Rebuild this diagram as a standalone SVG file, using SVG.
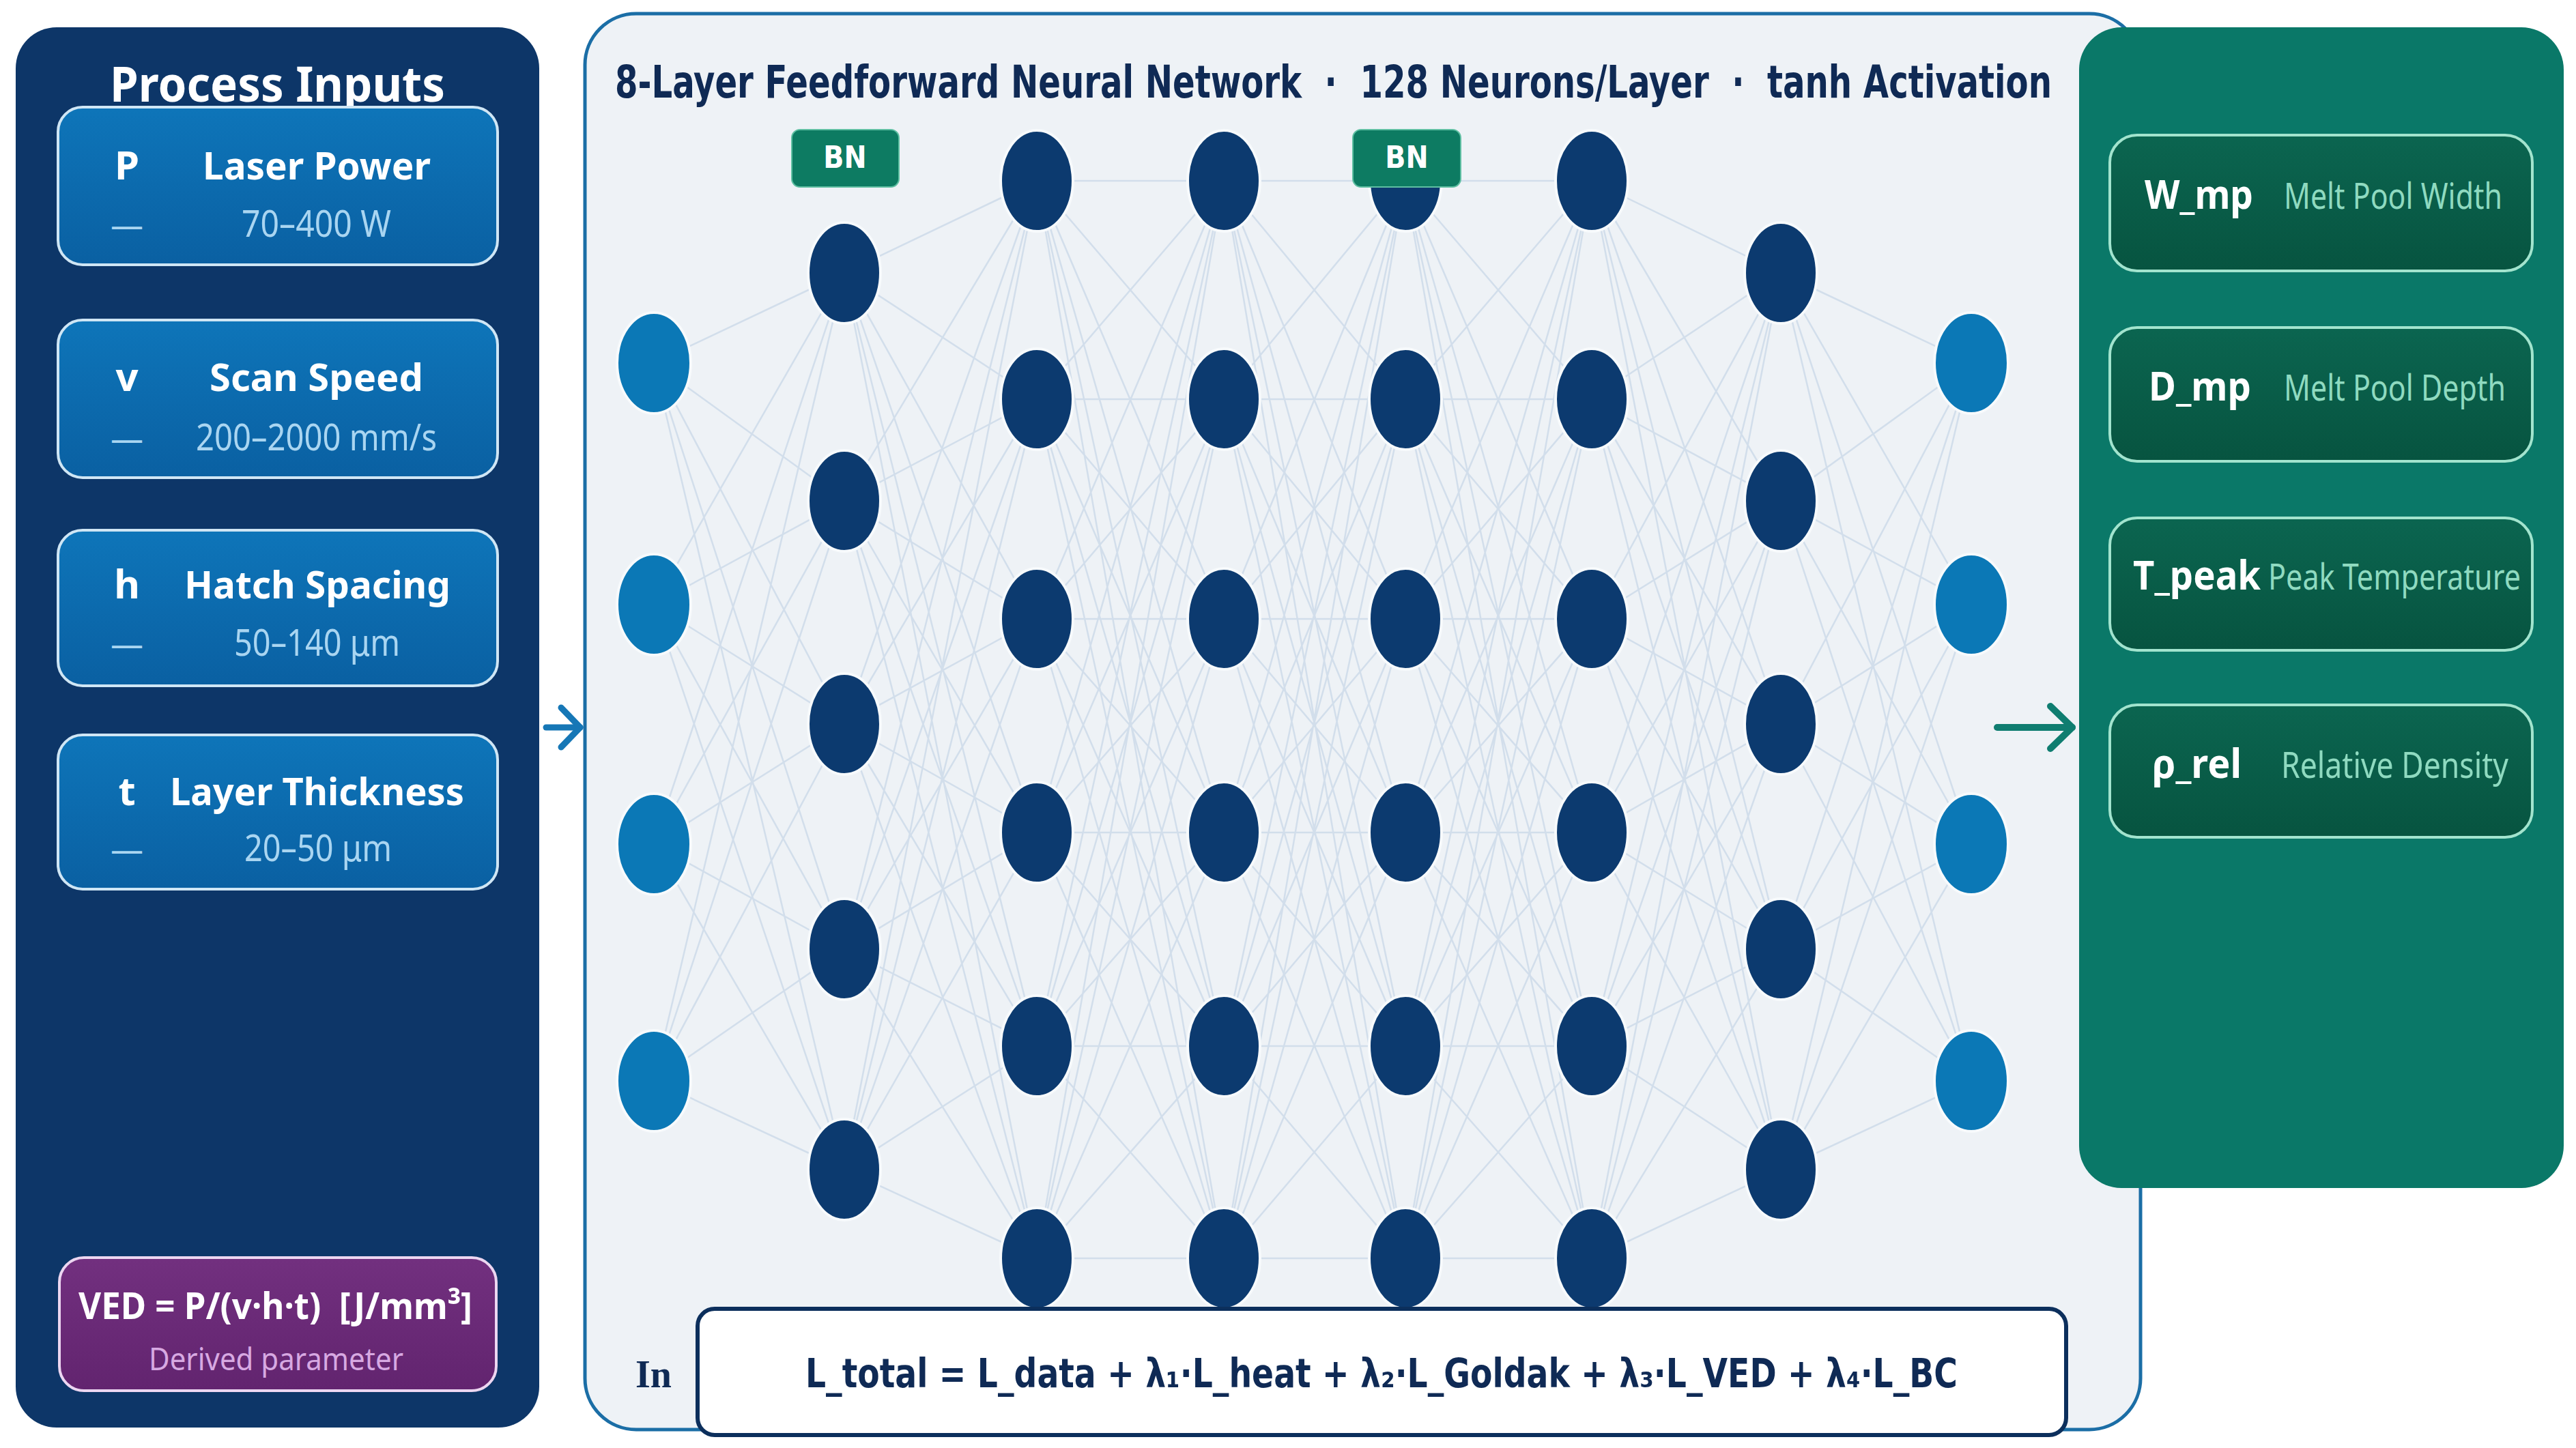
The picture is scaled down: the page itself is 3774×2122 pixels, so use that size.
<svg xmlns="http://www.w3.org/2000/svg" width="3774" height="2122" viewBox="0 0 3774 2122">
<defs>
<linearGradient id="gIn" x1="0" y1="0" x2="0" y2="1"><stop offset="0" stop-color="#0e75b9"/><stop offset="1" stop-color="#0a60a2"/></linearGradient>
<linearGradient id="gOut" x1="0" y1="0" x2="0" y2="1"><stop offset="0" stop-color="#0b6550"/><stop offset="1" stop-color="#075440"/></linearGradient>
<linearGradient id="gVed" x1="0" y1="0" x2="0" y2="1"><stop offset="0" stop-color="#72307f"/><stop offset="1" stop-color="#62246f"/></linearGradient>
<marker id="chevBlue" viewBox="0 0 40 70" refX="34" refY="35" markerWidth="40" markerHeight="70" orient="auto" markerUnits="userSpaceOnUse"><path d="M6 6 L34 35 L6 64" fill="none" stroke="#1677b6" stroke-width="9" stroke-linecap="round" stroke-linejoin="round"/></marker>
<marker id="chevTeal" viewBox="0 0 44 74" refX="38" refY="37" markerWidth="44" markerHeight="74" orient="auto" markerUnits="userSpaceOnUse"><path d="M6 6 L38 37 L6 68" fill="none" stroke="#0f7d70" stroke-width="10" stroke-linecap="round" stroke-linejoin="round"/></marker>
</defs>
<style>
.panelL{fill:#0d3668}
.panelM{fill:#eef2f6;stroke:#1b6ea6;stroke-width:5}
.panelR{fill:#0a7868}
.ibox{fill:url(#gIn);stroke:#cfe6f5;stroke-width:4}
.obox{fill:url(#gOut);stroke:#a2e4ce;stroke-width:4}
.vbox{fill:url(#gVed);stroke:#ecd6f1;stroke-width:4}
.bn{fill:#0d7b62;stroke:#5fbfa2;stroke-width:2}
.hid{fill:#0c3a6f;stroke:#f7fafc;stroke-width:4}
.io{fill:#0b78b6;stroke:#f7fafc;stroke-width:4}
.fbox{fill:#ffffff;stroke:#0c2f5c;stroke-width:6}
.wires{fill:none;stroke:#c6d5e7;stroke-width:2.5;opacity:0.7}
.arrowB{fill:none;stroke:#1677b6;stroke-width:9;stroke-linecap:round}
.arrowT{fill:none;stroke:#0f7d70;stroke-width:10;stroke-linecap:round}
.ptitle{font-family:"Noto Sans","Open Sans",sans-serif;font-weight:700;font-size:72px;fill:#ffffff}
.sym{font-family:"Noto Sans","Open Sans",sans-serif;font-weight:700;font-size:58px;fill:#ffffff;text-anchor:middle}
.lbl{font-family:"Noto Sans","Open Sans",sans-serif;font-weight:700;font-size:56px;fill:#ffffff}
.sub{font-family:"Noto Sans","Open Sans",sans-serif;font-weight:400;font-size:54px;fill:#a9d5f1}
.dash{font-family:"Noto Sans","Open Sans",sans-serif;font-weight:400;font-size:48px;fill:#a9d5f1;text-anchor:middle}
.ved{font-family:"Noto Sans","Open Sans",sans-serif;font-weight:700;font-size:54px;fill:#ffffff}
.vsub{font-family:"Noto Sans","Open Sans",sans-serif;font-weight:400;font-size:46px;fill:#d7a9e2}
.ntitle{font-family:"DejaVu Sans Condensed","DejaVu Sans",sans-serif;font-stretch:condensed;font-weight:700;font-size:66px;fill:#0f2a55}
.bnt{font-family:"DejaVu Sans Condensed","DejaVu Sans",sans-serif;font-stretch:condensed;font-weight:700;font-size:44px;fill:#ffffff;text-anchor:middle}
.olbl{font-family:"Noto Sans","Open Sans",sans-serif;font-weight:700;font-size:60px;fill:#ffffff}
.osub{font-family:"Noto Sans","Open Sans",sans-serif;font-weight:400;font-size:52px;fill:#8fdac0}
.form{font-family:"DejaVu Sans Condensed","DejaVu Sans",sans-serif;font-stretch:condensed;font-weight:700;font-size:58px;fill:#0f2a55}
.inl{font-family:"Liberation Serif","DejaVu Serif",serif;font-weight:700;font-size:56px;fill:#0f2a55}
</style>
<rect width="3774" height="2122" fill="#ffffff"/>

<g id="process-inputs">
<rect class="panelL" x="23" y="40" width="767" height="2052" rx="60"/>
<text class="ptitle" x="161" y="149" textLength="491" lengthAdjust="spacingAndGlyphs">Process Inputs</text>
</g>
<g id="in-power">
<rect class="ibox" x="85" y="157" width="644" height="231" rx="36"/>
<text class="sym" x="186" y="263">P</text>
<text class="lbl" x="297" y="263" textLength="334" lengthAdjust="spacingAndGlyphs">Laser Power</text>
<text class="dash" x="186" y="347">—</text>
<text class="sub" x="354" y="347" textLength="219" lengthAdjust="spacingAndGlyphs">70–400 W</text>
</g>
<g id="in-speed">
<rect class="ibox" x="85" y="469" width="644" height="231" rx="36"/>
<text class="sym" x="186" y="573">v</text>
<text class="lbl" x="307" y="573" textLength="313" lengthAdjust="spacingAndGlyphs">Scan Speed</text>
<text class="dash" x="186" y="660">—</text>
<text class="sub" x="287" y="660" textLength="353" lengthAdjust="spacingAndGlyphs">200–2000 mm/s</text>
</g>
<g id="in-hatch">
<rect class="ibox" x="85" y="777" width="644" height="228" rx="36"/>
<text class="sym" x="186" y="877">h</text>
<text class="lbl" x="270" y="877" textLength="390" lengthAdjust="spacingAndGlyphs">Hatch Spacing</text>
<text class="dash" x="186" y="961">—</text>
<text class="sub" x="343" y="961" textLength="243" lengthAdjust="spacingAndGlyphs">50–140 μm</text>
</g>
<g id="in-thickness">
<rect class="ibox" x="85" y="1077" width="644" height="226" rx="36"/>
<text class="sym" x="186" y="1180">t</text>
<text class="lbl" x="249" y="1180" textLength="431" lengthAdjust="spacingAndGlyphs">Layer Thickness</text>
<text class="dash" x="186" y="1262">—</text>
<text class="sub" x="358" y="1262" textLength="216" lengthAdjust="spacingAndGlyphs">20–50 μm</text>
</g>
<g id="ved">
<rect class="vbox" x="87" y="1843" width="640" height="195" rx="36"/>
<text class="ved" x="115" y="1933" textLength="577" lengthAdjust="spacingAndGlyphs" xml:space="preserve">VED = P/(v·h·t)  [J/mm³]</text>
<text class="vsub" x="218" y="2008" textLength="373" lengthAdjust="spacingAndGlyphs">Derived parameter</text>
</g>

<g id="network-panel">
<rect class="panelM" x="857" y="20" width="2279" height="2075" rx="75"/>
<text class="ntitle" x="901" y="143" textLength="2105" lengthAdjust="spacingAndGlyphs" xml:space="preserve">8-Layer Feedforward Neural Network  ·  128 Neurons/Layer  ·  tanh Activation</text>
</g>

<g id="connectors">
<path class="wires" d="M958 532L1237 400M958 532L1237 734M958 532L1237 1061M958 532L1237 1391M958 532L1237 1714M958 886L1237 400M958 886L1237 734M958 886L1237 1061M958 886L1237 1391M958 886L1237 1714M958 1237L1237 400M958 1237L1237 734M958 1237L1237 1061M958 1237L1237 1391M958 1237L1237 1714M958 1584L1237 400M958 1584L1237 734M958 1584L1237 1061M958 1584L1237 1391M958 1584L1237 1714"/>
<path class="wires" d="M1237 400L1519 265M1237 400L1519 585M1237 400L1519 907M1237 400L1519 1220M1237 400L1519 1533M1237 400L1519 1844M1237 734L1519 265M1237 734L1519 585M1237 734L1519 907M1237 734L1519 1220M1237 734L1519 1533M1237 734L1519 1844M1237 1061L1519 265M1237 1061L1519 585M1237 1061L1519 907M1237 1061L1519 1220M1237 1061L1519 1533M1237 1061L1519 1844M1237 1391L1519 265M1237 1391L1519 585M1237 1391L1519 907M1237 1391L1519 1220M1237 1391L1519 1533M1237 1391L1519 1844M1237 1714L1519 265M1237 1714L1519 585M1237 1714L1519 907M1237 1714L1519 1220M1237 1714L1519 1533M1237 1714L1519 1844"/>
<path class="wires" d="M1519 265L1793 265M1519 265L1793 585M1519 265L1793 907M1519 265L1793 1220M1519 265L1793 1533M1519 265L1793 1844M1519 585L1793 265M1519 585L1793 585M1519 585L1793 907M1519 585L1793 1220M1519 585L1793 1533M1519 585L1793 1844M1519 907L1793 265M1519 907L1793 585M1519 907L1793 907M1519 907L1793 1220M1519 907L1793 1533M1519 907L1793 1844M1519 1220L1793 265M1519 1220L1793 585M1519 1220L1793 907M1519 1220L1793 1220M1519 1220L1793 1533M1519 1220L1793 1844M1519 1533L1793 265M1519 1533L1793 585M1519 1533L1793 907M1519 1533L1793 1220M1519 1533L1793 1533M1519 1533L1793 1844M1519 1844L1793 265M1519 1844L1793 585M1519 1844L1793 907M1519 1844L1793 1220M1519 1844L1793 1533M1519 1844L1793 1844"/>
<path class="wires" d="M1793 265L2058 265M1793 265L2058 585M1793 265L2058 907M1793 265L2058 1220M1793 265L2058 1533M1793 265L2058 1844M1793 585L2058 265M1793 585L2058 585M1793 585L2058 907M1793 585L2058 1220M1793 585L2058 1533M1793 585L2058 1844M1793 907L2058 265M1793 907L2058 585M1793 907L2058 907M1793 907L2058 1220M1793 907L2058 1533M1793 907L2058 1844M1793 1220L2058 265M1793 1220L2058 585M1793 1220L2058 907M1793 1220L2058 1220M1793 1220L2058 1533M1793 1220L2058 1844M1793 1533L2058 265M1793 1533L2058 585M1793 1533L2058 907M1793 1533L2058 1220M1793 1533L2058 1533M1793 1533L2058 1844M1793 1844L2058 265M1793 1844L2058 585M1793 1844L2058 907M1793 1844L2058 1220M1793 1844L2058 1533M1793 1844L2058 1844"/>
<path class="wires" d="M2058 265L2332 265M2058 265L2332 585M2058 265L2332 907M2058 265L2332 1220M2058 265L2332 1533M2058 265L2332 1844M2058 585L2332 265M2058 585L2332 585M2058 585L2332 907M2058 585L2332 1220M2058 585L2332 1533M2058 585L2332 1844M2058 907L2332 265M2058 907L2332 585M2058 907L2332 907M2058 907L2332 1220M2058 907L2332 1533M2058 907L2332 1844M2058 1220L2332 265M2058 1220L2332 585M2058 1220L2332 907M2058 1220L2332 1220M2058 1220L2332 1533M2058 1220L2332 1844M2058 1533L2332 265M2058 1533L2332 585M2058 1533L2332 907M2058 1533L2332 1220M2058 1533L2332 1533M2058 1533L2332 1844M2058 1844L2332 265M2058 1844L2332 585M2058 1844L2332 907M2058 1844L2332 1220M2058 1844L2332 1533M2058 1844L2332 1844"/>
<path class="wires" d="M2332 265L2609 400M2332 265L2609 734M2332 265L2609 1061M2332 265L2609 1391M2332 265L2609 1714M2332 585L2609 400M2332 585L2609 734M2332 585L2609 1061M2332 585L2609 1391M2332 585L2609 1714M2332 907L2609 400M2332 907L2609 734M2332 907L2609 1061M2332 907L2609 1391M2332 907L2609 1714M2332 1220L2609 400M2332 1220L2609 734M2332 1220L2609 1061M2332 1220L2609 1391M2332 1220L2609 1714M2332 1533L2609 400M2332 1533L2609 734M2332 1533L2609 1061M2332 1533L2609 1391M2332 1533L2609 1714M2332 1844L2609 400M2332 1844L2609 734M2332 1844L2609 1061M2332 1844L2609 1391M2332 1844L2609 1714"/>
<path class="wires" d="M2609 400L2888 532M2609 400L2888 886M2609 400L2888 1237M2609 400L2888 1584M2609 734L2888 532M2609 734L2888 886M2609 734L2888 1237M2609 734L2888 1584M2609 1061L2888 532M2609 1061L2888 886M2609 1061L2888 1237M2609 1061L2888 1584M2609 1391L2888 532M2609 1391L2888 886M2609 1391L2888 1237M2609 1391L2888 1584M2609 1714L2888 532M2609 1714L2888 886M2609 1714L2888 1237M2609 1714L2888 1584"/>
<path id="arrow-in" class="arrowB" d="M800 1066H850" marker-end="url(#chevBlue)"/>
<path id="arrow-out" class="arrowT" d="M2926 1066H3036" marker-end="url(#chevTeal)"/>
</g>

<g id="layer1">
<g id="n1-1"><ellipse class="io" cx="958" cy="532" rx="54" ry="74"/></g>
<g id="n1-2"><ellipse class="io" cx="958" cy="886" rx="54" ry="74"/></g>
<g id="n1-3"><ellipse class="io" cx="958" cy="1237" rx="54" ry="74"/></g>
<g id="n1-4"><ellipse class="io" cx="958" cy="1584" rx="54" ry="74"/></g>
</g>
<g id="layer2">
<g id="n2-1"><ellipse class="hid" cx="1237" cy="400" rx="53" ry="74"/></g>
<g id="n2-2"><ellipse class="hid" cx="1237" cy="734" rx="53" ry="74"/></g>
<g id="n2-3"><ellipse class="hid" cx="1237" cy="1061" rx="53" ry="74"/></g>
<g id="n2-4"><ellipse class="hid" cx="1237" cy="1391" rx="53" ry="74"/></g>
<g id="n2-5"><ellipse class="hid" cx="1237" cy="1714" rx="53" ry="74"/></g>
</g>
<g id="layer3">
<g id="n3-1"><ellipse class="hid" cx="1519" cy="265" rx="53" ry="74"/></g>
<g id="n3-2"><ellipse class="hid" cx="1519" cy="585" rx="53" ry="74"/></g>
<g id="n3-3"><ellipse class="hid" cx="1519" cy="907" rx="53" ry="74"/></g>
<g id="n3-4"><ellipse class="hid" cx="1519" cy="1220" rx="53" ry="74"/></g>
<g id="n3-5"><ellipse class="hid" cx="1519" cy="1533" rx="53" ry="74"/></g>
<g id="n3-6"><ellipse class="hid" cx="1519" cy="1844" rx="53" ry="74"/></g>
</g>
<g id="layer4">
<g id="n4-1"><ellipse class="hid" cx="1793" cy="265" rx="53" ry="74"/></g>
<g id="n4-2"><ellipse class="hid" cx="1793" cy="585" rx="53" ry="74"/></g>
<g id="n4-3"><ellipse class="hid" cx="1793" cy="907" rx="53" ry="74"/></g>
<g id="n4-4"><ellipse class="hid" cx="1793" cy="1220" rx="53" ry="74"/></g>
<g id="n4-5"><ellipse class="hid" cx="1793" cy="1533" rx="53" ry="74"/></g>
<g id="n4-6"><ellipse class="hid" cx="1793" cy="1844" rx="53" ry="74"/></g>
</g>
<g id="layer5">
<g id="n5-1"><ellipse class="hid" cx="2059" cy="265" rx="53" ry="74"/></g>
<g id="n5-2"><ellipse class="hid" cx="2059" cy="585" rx="53" ry="74"/></g>
<g id="n5-3"><ellipse class="hid" cx="2059" cy="907" rx="53" ry="74"/></g>
<g id="n5-4"><ellipse class="hid" cx="2059" cy="1220" rx="53" ry="74"/></g>
<g id="n5-5"><ellipse class="hid" cx="2059" cy="1533" rx="53" ry="74"/></g>
<g id="n5-6"><ellipse class="hid" cx="2059" cy="1844" rx="53" ry="74"/></g>
</g>
<g id="layer6">
<g id="n6-1"><ellipse class="hid" cx="2332" cy="265" rx="53" ry="74"/></g>
<g id="n6-2"><ellipse class="hid" cx="2332" cy="585" rx="53" ry="74"/></g>
<g id="n6-3"><ellipse class="hid" cx="2332" cy="907" rx="53" ry="74"/></g>
<g id="n6-4"><ellipse class="hid" cx="2332" cy="1220" rx="53" ry="74"/></g>
<g id="n6-5"><ellipse class="hid" cx="2332" cy="1533" rx="53" ry="74"/></g>
<g id="n6-6"><ellipse class="hid" cx="2332" cy="1844" rx="53" ry="74"/></g>
</g>
<g id="layer7">
<g id="n7-1"><ellipse class="hid" cx="2609" cy="400" rx="53" ry="74"/></g>
<g id="n7-2"><ellipse class="hid" cx="2609" cy="734" rx="53" ry="74"/></g>
<g id="n7-3"><ellipse class="hid" cx="2609" cy="1061" rx="53" ry="74"/></g>
<g id="n7-4"><ellipse class="hid" cx="2609" cy="1391" rx="53" ry="74"/></g>
<g id="n7-5"><ellipse class="hid" cx="2609" cy="1714" rx="53" ry="74"/></g>
</g>
<g id="layer8">
<g id="n8-1"><ellipse class="io" cx="2888" cy="532" rx="54" ry="74"/></g>
<g id="n8-2"><ellipse class="io" cx="2888" cy="886" rx="54" ry="74"/></g>
<g id="n8-3"><ellipse class="io" cx="2888" cy="1237" rx="54" ry="74"/></g>
<g id="n8-4"><ellipse class="io" cx="2888" cy="1584" rx="54" ry="74"/></g>
</g>

<g id="bn-1">
<rect class="bn" x="1160" y="190" width="157" height="84" rx="12"/>
<text class="bnt" x="1238" y="246">BN</text>
</g>
<g id="bn-2">
<rect class="bn" x="1982" y="190" width="158" height="84" rx="12"/>
<text class="bnt" x="2061" y="246">BN</text>
</g>

<g id="loss">
<text class="inl" x="931" y="2033">In</text>
<rect class="fbox" x="1022" y="1918" width="2005" height="185" rx="25"/>
<text class="form" x="1180" y="2033" textLength="1688" lengthAdjust="spacingAndGlyphs">L_total = L_data + λ₁·L_heat + λ₂·L_Goldak + λ₃·L_VED + λ₄·L_BC</text>
</g>

<g id="outputs">
<rect class="panelR" x="3046" y="40" width="710" height="1701" rx="62"/>
</g>
<g id="out-width">
<rect class="obox" x="3091" y="198" width="619" height="199" rx="40"/>
<text class="olbl" x="3142" y="306" textLength="159" lengthAdjust="spacingAndGlyphs">W_mp</text>
<text class="osub" x="3346" y="306" textLength="320" lengthAdjust="spacingAndGlyphs">Melt Pool Width</text>
</g>
<g id="out-depth">
<rect class="obox" x="3091" y="480" width="619" height="196" rx="40"/>
<text class="olbl" x="3148" y="587" textLength="150" lengthAdjust="spacingAndGlyphs">D_mp</text>
<text class="osub" x="3346" y="587" textLength="325" lengthAdjust="spacingAndGlyphs">Melt Pool Depth</text>
</g>
<g id="out-temp">
<rect class="obox" x="3091" y="759" width="619" height="194" rx="40"/>
<text class="olbl" x="3125" y="864" textLength="187" lengthAdjust="spacingAndGlyphs">T_peak</text>
<text class="osub" x="3323" y="864" textLength="370" lengthAdjust="spacingAndGlyphs">Peak Temperature</text>
</g>
<g id="out-density">
<rect class="obox" x="3091" y="1033" width="619" height="194" rx="40"/>
<text class="olbl" x="3153" y="1140" textLength="131" lengthAdjust="spacingAndGlyphs">ρ_rel</text>
<text class="osub" x="3342" y="1140" textLength="333" lengthAdjust="spacingAndGlyphs">Relative Density</text>
</g>
</svg>
